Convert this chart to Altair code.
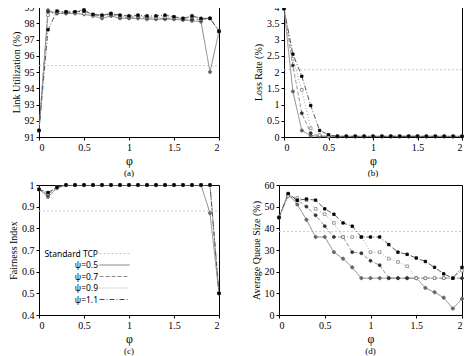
import altair as alt
import pandas as pd

FONT = "Liberation Serif"
GFONT = "Noto Sans"

phi = [0.0, 0.1, 0.2, 0.3, 0.4, 0.5, 0.6, 0.7, 0.8, 0.9, 1.0,
       1.1, 1.2, 1.3, 1.4, 1.5, 1.6, 1.7, 1.8, 1.9, 2.0]
tcp_phi = [0.0, 2.0]

series = ["Standard TCP", "ψ=0.5", "ψ=0.7", "ψ=0.9", "ψ=1.1"]

# (a) Link utilization (%)
util_tcp = [95.4, 95.4]
util_05 = [91.4, 98.8, 98.6, 98.6, 98.6, 98.55, 98.45, 98.3, 98.45, 98.3, 98.3,
           98.3, 98.25, 98.25, 98.25, 98.25, 98.2, 98.15, 98.1, 95.0, 97.5]
util_07 = [91.4, 98.7, 98.65, 98.65, 98.7, 98.85, 98.5, 98.45, 98.55, 98.4, 98.35,
           98.4, 98.35, 98.3, 98.3, 98.3, 98.25, 98.25, 98.2, 98.3, 97.55]
util_09 = [91.4, 98.5, 98.7, 98.7, 98.65, 98.6, 98.5, 98.45, 98.6, 98.45, 98.4,
           98.45, 98.4, 98.35, 98.4, 98.35, 98.3, 98.4, 98.25, 98.3, 97.5]
util_11 = [91.4, 97.6, 98.75, 98.7, 98.7, 98.75, 98.55, 98.5, 98.6, 98.5, 98.45,
           98.5, 98.45, 98.45, 98.5, 98.4, 98.3, 98.45, 98.3, 98.3, 97.5]

# (b) Loss rate (%)
loss_tcp = [2.07, 2.07]
loss_05 = [3.95, 1.4, 0.2, 0.04, 0.02, 0.02, 0.02, 0.02, 0.02, 0.02, 0.02,
           0.02, 0.02, 0.02, 0.02, 0.02, 0.02, 0.02, 0.02, 0.02, 0.02]
loss_07 = [3.95, 2.2, 0.73, 0.12, 0.03, 0.02, 0.02, 0.02, 0.02, 0.02, 0.02,
           0.02, 0.02, 0.02, 0.02, 0.02, 0.02, 0.02, 0.02, 0.02, 0.02]
loss_09 = [3.95, 2.4, 1.45, 0.27, 0.06, 0.03, 0.02, 0.02, 0.02, 0.02, 0.02,
           0.02, 0.02, 0.02, 0.02, 0.02, 0.02, 0.02, 0.02, 0.02, 0.02]
loss_11 = [3.95, 2.55, 1.87, 0.97, 0.2, 0.07, 0.02, 0.02, 0.02, 0.02, 0.02,
           0.02, 0.02, 0.02, 0.02, 0.02, 0.02, 0.02, 0.02, 0.02, 0.02]

# (c) Fairness index
fair_tcp = [0.88, 0.88]
fair_05 = [0.98, 0.945, 0.985, 1.0, 1.0, 1.0, 1.0, 1.0, 1.0, 1.0, 1.0,
           1.0, 1.0, 1.0, 1.0, 1.0, 1.0, 1.0, 1.0, 0.87, 0.5]
fair_07 = [0.98, 0.955, 0.99, 1.0, 1.0, 1.0, 1.0, 1.0, 1.0, 1.0, 1.0,
           1.0, 1.0, 1.0, 1.0, 1.0, 1.0, 1.0, 1.0, 1.0, 0.5]
fair_09 = [0.98, 0.96, 0.99, 1.0, 1.0, 1.0, 1.0, 1.0, 1.0, 1.0, 1.0,
           1.0, 1.0, 1.0, 1.0, 1.0, 1.0, 1.0, 1.0, 1.0, 0.5]
fair_11 = [0.98, 0.965, 0.99, 1.0, 1.0, 1.0, 1.0, 1.0, 1.0, 1.0, 1.0,
           1.0, 1.0, 1.0, 1.0, 1.0, 1.0, 1.0, 1.0, 1.0, 0.5]

# (d) Average queue size (%)
queue_tcp = [38.5, 38.5]
queue_05 = [45, 56, 51, 44, 36, 36, 29, 26, 22, 17, 17,
            17, 17, 17, 17, 17, 12.5, 10.5, 8, 3, 7.5]
queue_07 = [45, 55, 53, 50, 46, 41, 36, 36, 29, 28.5, 25,
            23, 17, 17, 17, 17, 17, 17, 17, 17, 17]
queue_09 = [45, 55, 54, 53, 49, 46.5, 42.5, 36, 36, 36, 29,
            29, 26, 24.5, 22.5, 17, 17, 17, 17, 17, 20.5]
queue_11 = [45, 56, 53, 53.5, 53, 49, 46.5, 42.5, 41, 36, 36,
            36, 32.5, 29, 28, 26.3, 24.7, 22, 19, 17, 22]

line_colors = ["#c4c4c4", "#7a7a7a", "#8a8a8a", "#9a9a9a", "#4a4a4a"]
dashes = [[2, 2], [1, 0], [4, 2], [1, 2], [5, 2, 1, 2]]
pt_series = series[1:]
pt_shapes = ["cross", "circle", "square", "square"]
pt_sizes = [10, 6, 12, 10]
pt_fills = ["#666666", "#333333", "#ffffff", "#000000"]
pt_strokes = ["#666666", "#333333", "#888888", "#000000"]


def make_df(tcp, s05, s07, s09, s11):
    rows = []
    for x, v in zip(tcp_phi, tcp):
        rows.append({"phi": x, "v": v, "s": series[0]})
    for name, vals in zip(series[1:], [s05, s07, s09, s11]):
        for x, v in zip(phi, vals):
            rows.append({"phi": x, "v": v, "s": name})
    return pd.DataFrame(rows)


def panel(df, ytitle, ydom, yvals, caption, w, h, legend=False):
    x = alt.X("phi:Q", scale=alt.Scale(domain=[0, 2], nice=False),
              axis=alt.Axis(values=[0, 0.5, 1, 1.5, 2], format="~r", title="φ",
                            titleFont=FONT, titleFontSize=12, titlePadding=3))
    y = alt.Y("v:Q", scale=alt.Scale(domain=ydom, nice=False, zero=False),
              axis=alt.Axis(values=yvals, format="~r", title=ytitle, titlePadding=3))
    if legend:
        leg = alt.Legend(orient="none", legendX=70, legendY=63, title=None,
                         symbolType="M-3,0H3", symbolSize=100, symbolStrokeWidth=1,
                         rowPadding=1.5,
                         labelAlign="right", labelOffset={"expr": "-22"},
                         labelFont=GFONT, labelFontSize=8.5, labelColor="black")
    else:
        leg = None
    lines = alt.Chart(df).mark_line(strokeWidth=0.9, clip=True).encode(
        x=x, y=y,
        color=alt.Color("s:N", scale=alt.Scale(domain=series, range=line_colors), legend=leg),
        strokeDash=alt.StrokeDash("s:N", scale=alt.Scale(domain=series, range=dashes), legend=leg),
        detail="s:N",
    )
    pts = alt.Chart(df).transform_filter(
        alt.datum.s != series[0]
    ).mark_point(filled=True, strokeWidth=0.8, opacity=1).encode(
        x=x, y=y,
        shape=alt.Shape("s:N", scale=alt.Scale(domain=pt_series, range=pt_shapes), legend=None),
        size=alt.Size("s:N", scale=alt.Scale(domain=pt_series, range=pt_sizes), legend=None),
        fill=alt.Fill("s:N", scale=alt.Scale(domain=pt_series, range=pt_fills), legend=None),
        stroke=alt.Stroke("s:N", scale=alt.Scale(domain=pt_series, range=pt_strokes), legend=None),
    )
    return alt.layer(lines, pts).properties(
        width=w, height=h,
        title=alt.TitleParams(caption, orient="bottom", fontSize=9, font=FONT,
                              fontWeight="normal", offset=3, color="black"),
    ).resolve_scale(color="independent", strokeDash="independent", size="independent",
                    shape="independent", fill="independent", stroke="independent")


pa = panel(make_df(util_tcp, util_05, util_07, util_09, util_11),
           "Link Utilization (%)", [91, 99], [91, 92, 93, 94, 95, 96, 97, 98, 99], "(a)", 180, 130)
pb = panel(make_df(loss_tcp, loss_05, loss_07, loss_09, loss_11),
           "Loss Rate (%)", [0, 4], [0, 0.5, 1, 1.5, 2, 2.5, 3, 3.5, 4], "(b)", 178, 130)
pc = panel(make_df(fair_tcp, fair_05, fair_07, fair_09, fair_11),
           "Fairness Index", [0.4, 1], [0.4, 0.5, 0.6, 0.7, 0.8, 0.9, 1], "(c)", 180, 130, legend=True)
pd_ = panel(make_df(queue_tcp, queue_05, queue_07, queue_09, queue_11),
            "Average Queue Size (%)", [0, 60], [0, 10, 20, 30, 40, 50, 60], "(d)", 183, 130)

chart = alt.vconcat(
    alt.hconcat(pa, pb, spacing=30),
    alt.hconcat(pc, pd_, spacing=27),
    spacing=0,
).resolve_scale(color="independent", strokeDash="independent", size="independent",
                shape="independent", fill="independent", stroke="independent"
).resolve_legend(color="independent", strokeDash="independent"
).properties(
    padding={"top": -7, "left": 0, "right": 0, "bottom": 0},
    background="white",
).configure_view(stroke="black", strokeWidth=1
).configure_axis(
    grid=False, domain=False, ticks=True, tickSize=3, tickColor="black",
    labelFont=FONT, titleFont=FONT, labelFontSize=10, titleFontSize=10,
    labelColor="black", titleColor="black", titleFontWeight="normal", labelPadding=2,
)

chart.save("out.html", embed_options={"renderer": "svg", "actions": False})
